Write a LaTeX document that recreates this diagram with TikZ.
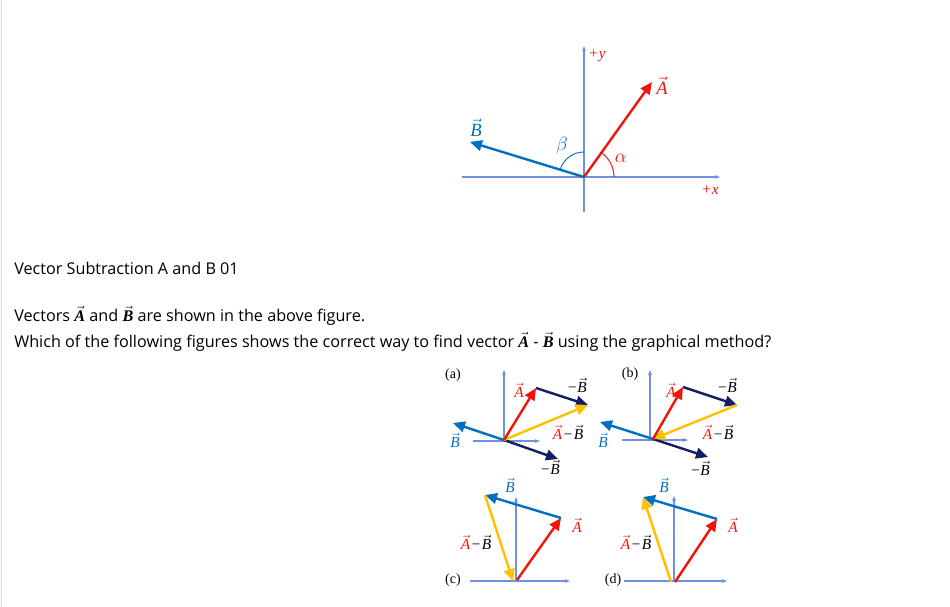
\documentclass[tikz,border=0pt]{standalone}
\usepackage{fontspec}
\setmainfont{Liberation Serif}
\newfontfamily\uisans{Open Sans}
\newfontfamily\serf{Liberation Serif}
\usetikzlibrary{arrows.meta}
\definecolor{axc}{RGB}{110,145,225}
\definecolor{bc}{RGB}{0,112,192}
\definecolor{ac}{RGB}{240,20,10}
\definecolor{nc}{RGB}{20,30,100}
\definecolor{yc}{RGB}{255,192,0}
\newcommand\vv[1]{\ensuremath{\vec{\mbox{\itshape #1}}}}
\newcommand\vvb[1]{\ensuremath{\vec{\mbox{\serf\bfseries\itshape #1}}}}
\newcommand\amb{{\color{ac}\vv{A}}\kern0.5pt−\kern0.5pt\vv{B}}
\begin{document}
\begin{tikzpicture}[x=0.75pt,y=-0.75pt,
  ax/.style={axc,line width=0.8pt,-{Stealth[length=4pt]}},
  vA/.style={ac,line width=1.8pt,-{Triangle[length=9pt,width=8pt]}},
  vB/.style={bc,line width=1.8pt,-{Triangle[length=9pt,width=8pt]}},
  vN/.style={nc,line width=1.8pt,-{Triangle[length=9pt,width=8pt]}},
  vY/.style={yc,line width=1.8pt,-{Triangle[length=9pt,width=8pt]}},
  lab/.style={font=\fontsize{11.5}{12}\selectfont\itshape,inner sep=1pt},
  big/.style={font=\fontsize{14}{15}\selectfont\itshape,inner sep=1pt},
  slab/.style={font=\fontsize{10.5}{11}\selectfont,inner sep=1pt},
  qt/.style={font=\uisans\fontsize{12.15}{14}\selectfont,anchor=west,inner sep=0pt}]
\useasboundingbox (0,0) rectangle (950,607);
\fill[white] (0,0) rectangle (950,607);
\draw[gray!30] (1,0) -- (1,607);
% top figure
\coordinate (O) at (584,177);
\coordinate (xl) at (462,177); \coordinate (xr) at (720,177);
\coordinate (yb) at (584,212); \coordinate (yt) at (584,46);
\draw[ax] (xl) -- (xr);
\draw[ax] (yb) -- (yt);
\coordinate (At) at (652,82); \coordinate (Bt) at (470,142);
\draw[vA] (O) -- (At);
\draw[vB] (O) -- (Bt);
\draw[ac,line width=0.7pt] (O) ++(30,0) arc[start angle=0,end angle=-54,radius=30];
\draw[bc,line width=0.7pt] (O) ++(0,-25) arc[start angle=-90,end angle=-163,radius=25];
\node[lab,ac] (ly) at (597,56) {+y};
\node[lab,ac] (lx) at (710,190) {+x};
\node[big,ac] (lA) at (662,86) {\vv{A}};
\node[big,bc] (lB) at (476,128) {\vv{B}};
\node[big,bc] (lbe) at (562,146) {$\beta$};
\node[big,ac] (lal) at (621,158) {$\alpha$};
% text
\node[qt] (t1) at (14,268) {Vector Subtraction A and B 01};
\node[qt] (t2) at (14,316) {Vectors \vvb{A} and \vvb{B} are shown in the above figure.};
\node[qt] (t3) at (14,342) {Which of the following figures shows the correct way to find vector \vvb{A} - \vvb{B} using the graphical method?};
% (a)
\node[slab] (la) at (453,375) {(a)};
\draw[ax] (473,441) -- (540,441);
\draw[ax] (504,441) -- (504,370);
\coordinate (aO) at (504,440); \coordinate (aA) at (536,388);
\coordinate (aD) at (588,405); \coordinate (aB) at (453,423); \coordinate (aN) at (558,459);
\draw[vB] (aO) -- (aB);
\draw[vN] (aO) -- (aN);
\draw[vN] (aA) -- (aD);
\draw[vY] (aO) -- (aD);
\draw[vA] (aO) -- (aA);
\node[lab,ac] (a1) at (519,390) {\vv{A}};
\node[lab] (a2) at (577,385) {−\vv{B}};
\node[lab] (a3) at (568,432) {\amb};
\node[lab,bc] (a4) at (455,440) {\vv{B}};
\node[lab] (a5) at (550,467) {−\vv{B}};
% (b)
\node[slab] (lb) at (630,374) {(b)};
\draw[ax] (622,440) -- (688,440);
\draw[ax] (650,440) -- (650,370);
\coordinate (bO) at (653,439); \coordinate (bA) at (683,387);
\coordinate (bD) at (737,405); \coordinate (bB) at (600,422); \coordinate (bN) at (708,457);
\draw[vB] (bO) -- (bB);
\draw[vN] (bO) -- (bN);
\draw[vN] (bA) -- (bD);
\draw[vY] (bD) -- (bO);
\draw[vA] (bO) -- (bA);
\node[lab,ac] (b1) at (671,390) {\vv{A}};
\node[lab] (b2) at (727,385) {−\vv{B}};
\node[lab] (b3) at (718,432) {\amb};
\node[lab,bc] (b4) at (603,440) {\vv{B}};
\node[lab] (b5) at (700,468) {−\vv{B}};
% (c)
\node[slab] (lc) at (453,580) {(c)};
\draw[ax] (470,581) -- (570,581);
\draw[ax] (516,581) -- (516,497);
\coordinate (cO) at (517,580); \coordinate (cA) at (561,518);
\coordinate (cB) at (485,495); \coordinate (cY) at (513,581);
\draw[vA] (cO) -- (cA);
\draw[vB] (cA) -- (cB);
\draw[vY] (cB) -- (cY);
\node[lab,bc] (c1) at (510,485) {\vv{B}};
\node[lab,ac] (c2) at (577,525) {\vv{A}};
\node[lab] (c3) at (476,542) {\amb};
% (d)
\node[slab] (ld) at (613,580) {(d)};
\draw[ax] (624,581) -- (727,581);
\draw[ax] (674,581) -- (674,496);
\coordinate (dO) at (675,582); \coordinate (dA) at (717,519);
\coordinate (dB) at (643,497); \coordinate (dY) at (671,582);
\draw[vA] (dO) -- (dA);
\draw[vB] (dA) -- (dB);
\draw[vY] (dY) -- (dB);
\node[lab,bc] (d1) at (664,485) {\vv{B}};
\node[lab,ac] (d2) at (733,525) {\vv{A}};
\node[lab] (d3) at (636,542) {\amb};
\end{tikzpicture}
\end{document}
